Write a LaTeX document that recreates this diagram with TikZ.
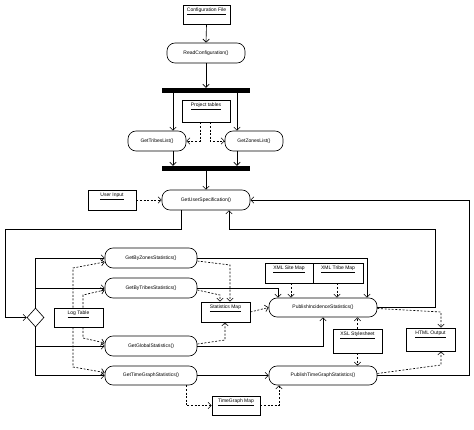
\documentclass[tikz,border=0pt]{standalone}
\usepackage{fontspec}
\setmainfont{Liberation Sans}
\usetikzlibrary{arrows.meta,shapes.geometric,calc}
\begin{document}
\begin{tikzpicture}[x=1pt,y=-1pt,
  every node/.style={font=\fontsize{5}{6}\selectfont, inner sep=0pt},
  act/.style={draw, rounded corners=8pt, line width=0.65pt},
  obj/.style={draw, line width=0.65pt, label={[anchor=north, yshift=-3.5pt]north:\underline{#1}}},
  bar/.style={fill=black, minimum width=88pt, minimum height=5pt},
  flow/.style={line width=0.65pt, -{Straight Barb[length=3.2pt,width=6.5pt]}},
  oflow/.style={flow, dash pattern=on 2pt off 1.6pt}]
\useasboundingbox (0,0) rectangle (474,430);
% nodes
\node[obj=Configuration File, minimum width=47pt, minimum height=19pt] (cfg) at (206.5,14.5) {};
\node[act, minimum width=78pt, minimum height=20pt] (read) at (206,53) {ReadConfiguration()};
\node[bar] (bar1) at (206,90.5) {};
\node[obj=Project tables, minimum width=48pt, minimum height=22pt] (proj) at (206,111) {};
\node[act, minimum width=58pt, minimum height=20pt] (tribes) at (157,141) {GetTribesList()};
\node[act, minimum width=58pt, minimum height=20pt] (zones) at (254,141) {GetZonesList()};
\node[bar] (bar2) at (206,168.5) {};
\node[act, minimum width=88pt, minimum height=20pt] (spec) at (206,200) {GetUserSpecification()};
\node[obj=User Input, minimum width=48pt, minimum height=20pt] (user) at (112,200) {};
\node[draw, line width=0.65pt, diamond, minimum width=17pt, minimum height=19pt] (dia) at (35.5,317.5) {};
\node[act, minimum width=92pt, minimum height=20pt] (byz) at (151,258) {GetByZonesStatistics()};
\node[act, minimum width=92pt, minimum height=20pt] (byt) at (151,288) {GetByTribesStatistics()};
\node[act, minimum width=92pt, minimum height=20pt] (glob) at (151,346) {GetGlobalStatistics()};
\node[act, minimum width=92pt, minimum height=19pt] (tg) at (151,375.5) {GetTimeGraphStatistics()};
\node[obj=Log Table, minimum width=49pt, minimum height=19pt] (log) at (78.5,317.5) {};
\node[obj=Statistics Map, minimum width=49pt, minimum height=20pt] (smap) at (225.5,312) {};
\node[act, minimum width=108pt, minimum height=19pt] (pinc) at (323,307.5) {PublishIncidenceStatistics()};
\node[obj=XML Site Map, minimum width=48pt, minimum height=20pt] (xsite) at (289,273) {};
\node[obj=XML Tribe Map, minimum width=50pt, minimum height=20pt] (xtribe) at (338,273) {};
\node[act, minimum width=108pt, minimum height=19pt] (ptg) at (323,375.5) {PublishTimeGraphStatistics()};
\node[obj=XSL Stylesheet, minimum width=49pt, minimum height=24pt] (xsl) at (357.5,341) {};
\node[obj=HTML Output, minimum width=49pt, minimum height=23pt] (html) at (430.5,339.5) {};
\node[obj=TimeGraph Map, minimum width=48pt, minimum height=19pt] (tgm) at (236,405.5) {};
% control flow
\draw[flow] (cfg.south) -- (read.north);
\draw[flow] (read.south) -- (bar1.north);
\draw[flow] (bar1.south -| 173,0) -- (tribes.north -| 173,0);
\draw[flow] (bar1.south -| 237,0) -- (zones.north -| 237,0);
\draw[oflow] (proj.south -| 200,0) |- (tribes.east);
\draw[oflow] (proj.south -| 210,0) |- (zones.west);
\draw[flow] (tribes.south -| 173,0) -- (bar2.north -| 173,0);
\draw[flow] (zones.south -| 237,0) -- (bar2.north -| 237,0);
\draw[flow] (bar2.south) -- (spec.north);
\draw[oflow] (user.east) -- (spec.west);
\draw[flow] (ptg.east) -- (469,375.5) |- (spec.east);
\draw[flow] (pinc.east) -| (435,229) -| (spec.south -| 229,0);
\draw[flow] (spec.south -| 181,0) |- (5,229) |- (dia.west);
\draw[flow] (dia.north) |- (byz.west);
\draw[flow] (dia.north |- byt.west) -- (byt.west);
\draw[flow] (dia.south) |- (tg.west);
\draw[flow] (dia.south |- glob.west) -- (glob.west);
% log table flows
\draw[oflow] (log.north -| 73,0) -- (73,268) -- ($(byz.west)+(0,4)$);
\draw[oflow] (log.north -| 83,0) -- (83,295) -- ($(byt.west)+(0,2)$);
\draw[oflow] (log.south -| 83,0) -- (83,338) -- ($(glob.west)+(0,-3)$);
\draw[oflow] (log.south -| 73,0) -- (73,367) -- ($(tg.west)+(0,-3)$);
% statistics map
\draw[oflow] ($(byz.east)+(0,3)$) -- (230,265) -- (smap.north -| 230,0);
\draw[oflow] ($(byt.east)+(0,2)$) -- (220,295) -- (smap.north -| 220,0);
\draw[oflow] ($(glob.east)+(0,-2)$) -- (225,340) -- (smap.south -| 225,0);
\draw[oflow] (smap.east) -- (pinc.west);
% publish incidence
\draw[flow] (byt.east) -| (pinc.north -| 278,0);
\draw[flow] (byz.east) -| (pinc.north -| 367,0);
\draw[flow] (glob.east) -| (pinc.south);
\draw[flow] (tg.east) -- (ptg.west);
\draw[oflow] (xsite.south -| 291,0) -- (pinc.north -| 291,0);
\draw[oflow] (xtribe.south -| 337,0) -- (pinc.north -| 337,0);
\draw[oflow] (xsl.north) -- (xsl.north |- pinc.south);
\draw[oflow] (xsl.south) -- (xsl.south |- ptg.north);
\draw[oflow] ($(pinc.east)+(0,1)$) -- (441,312) -- (html.north -| 441,0);
\draw[oflow] ($(ptg.east)+(0,-2)$) -- (441,365) -- (html.south -| 441,0);
\draw[oflow] (tg.south -| 186,0) |- (tgm.west);
\draw[oflow] (tgm.east) -| (ptg.south -| 279,0);
\end{tikzpicture}
\end{document}
